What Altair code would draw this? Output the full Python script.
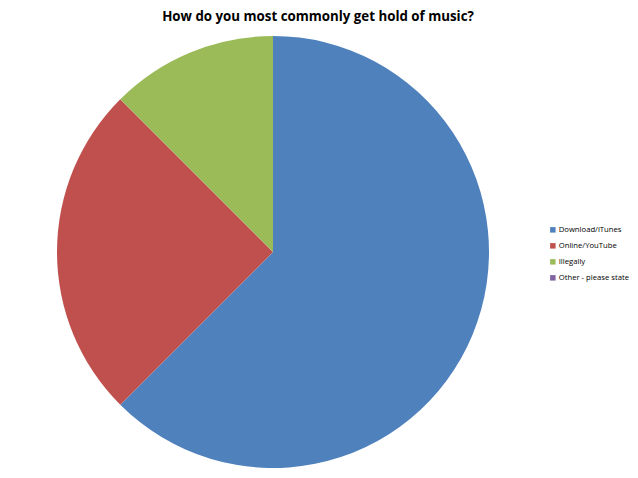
import altair as alt
import pandas as pd

categories = ["Download/iTunes", "Online/YouTube", "Illegally", "Other - please state"]
values = [5, 2, 1, 0]
colors = ["#4F81BD", "#C0504D", "#9BBB59", "#8064A2"]

df = pd.DataFrame({"cat": categories, "val": values, "ord": list(range(len(categories)))})

pie = alt.Chart(df).mark_arc(radius=216).encode(
    theta=alt.Theta("val:Q", stack=True),
    order=alt.Order("ord:Q"),
    color=alt.Color(
        "cat:N",
        scale=alt.Scale(domain=categories, range=colors),
        sort=categories,
        legend=alt.Legend(
            title=None,
            orient="none",
            legendX=541,
            legendY=218,
            symbolType="square",
            symbolSize=30,
            symbolStrokeWidth=0,
            labelFontSize=7.7,
            labelFont="Open Sans",
            labelColor="#000000",
            rowPadding=7,
            labelOffset=2,
            padding=0,
        ),
    ),
    x=alt.value(265),
    y=alt.value(244),
)

title = alt.Chart(pd.DataFrame({"t": ["How do you most commonly get hold of music?"]})).mark_text(
    font="Open Sans", fontSize=13.3, fontWeight="bold", color="#000000", align="center", baseline="middle"
).encode(text="t:N", x=alt.value(310), y=alt.value(9))

chart = alt.layer(pie, title).properties(
    width=622, height=462, autosize=alt.AutoSizeParams(type="none"), padding=0
).configure_view(stroke=None)

chart.save("out.html", embed_options={"renderer": "svg", "actions": False})
